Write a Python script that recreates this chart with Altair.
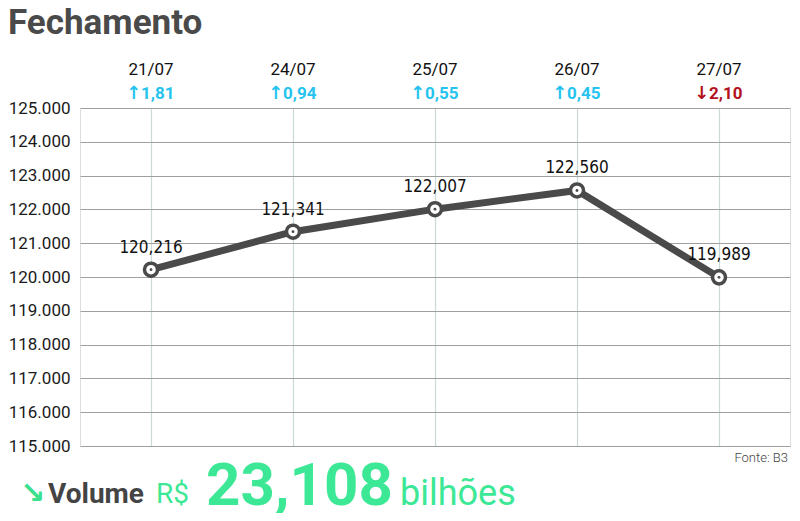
import altair as alt
import pandas as pd

dates = ["21/07", "24/07", "25/07", "26/07", "27/07"]
closes = [120216, 121341, 122007, 122560, 119989]
close_labels = ["120,216", "121,341", "122,007", "122,560", "119,989"]
changes = ["1,81", "0,94", "0,55", "0,45", "2,10"]
directions = ["up", "up", "up", "up", "down"]
y_ticks = [115000, 116000, 117000, 118000, 119000, 120000, 121000, 122000, 123000, 124000, 125000]

arrow = {"up": "↑", "down": "↓"}
df = pd.DataFrame({
    "date": dates,
    "close": closes,
    "label": close_labels,
    "change": changes,
    "arrow": [arrow[d] for d in directions],
    "dir": directions,
})

W, H = 710, 338
x = alt.X("date:N", sort=dates,
          scale=alt.Scale(type="point", padding=0.5),
          axis=alt.Axis(title=None, labels=False, ticks=False, domain=False,
                        grid=True, gridColor="#c9d9d9", gridWidth=1.2))
y = alt.Y("close:Q", scale=alt.Scale(domain=[115000, 125000], nice=False, zero=False),
          axis=alt.Axis(title=None, values=y_ticks, ticks=False, domain=False,
                        grid=True, gridColor="#a0a0a0", gridWidth=1,
                        labelOverlap=False,
                        labelExpr="replace(format(datum.value, ',d'), ',', '.')",
                        labelFont="Roboto", labelFontSize=17, labelColor="#1a1a1a",
                        labelPadding=10))

color = alt.Color("dir:N", scale=alt.Scale(domain=["up", "down"], range=["#27c3ef", "#b3121c"]),
                  legend=None)

base = alt.Chart(df)
line = base.mark_line(color="#4a4a4a", strokeWidth=7).encode(x=x, y=y)
circles = base.mark_point(shape="circle", size=170, filled=True, fill="white",
                          stroke="#4a4a4a", strokeWidth=3.5, opacity=1).encode(x=x, y=y)
dots = base.mark_point(shape="circle", size=8, filled=True, color="#4a4a4a",
                       opacity=1).encode(x=x, y=y)
vals = base.mark_text(font="DejaVu Sans Condensed", fontSize=17,
                      color="#111111", dy=-22, baseline="middle").encode(
    x=x, y=y, text="label:N")
date_txt = base.mark_text(font="Roboto", fontSize=17, color="#111111",
                          baseline="middle").encode(x=x, y=alt.value(-38), text="date:N")
chg_txt = base.mark_text(font="Roboto", fontSize=17, fontWeight="bold", align="left",
                         dx=-10, baseline="middle").encode(
    x=x, y=alt.value(-14), text="change:N", color=color)
arr_txt = base.mark_text(font="DejaVu Sans", fontSize=18, fontWeight="bold", align="right",
                         dx=-10, baseline="middle").encode(
    x=x, y=alt.value(-14), text="arrow:N", color=color)

one = pd.DataFrame({"k": [0]})
def txt(text, px, py, **kw):
    return alt.Chart(one).mark_text(text=text, **kw).encode(x=alt.value(px), y=alt.value(py))

title = txt("Fechamento", -72, -74, font="Roboto", fontSize=35, fontWeight="bold",
            color="#4a4a4a", align="left", baseline="alphabetic")
fonte = txt("Fonte: B3", 708, 350, font="Roboto", fontSize=13, fontWeight=300,
            color="#444444", align="right", baseline="middle")
varrow = txt("↘", -60, 395, font="DejaVu Sans", fontSize=30, fontWeight="bold",
             color="#3be08f", align="left", baseline="alphabetic")
vol = txt("Volume", -32, 395, font="Roboto", fontSize=28, fontWeight="bold",
          color="#444444", align="left", baseline="alphabetic")
rs = txt("R$", 76, 395, font="Roboto", fontSize=28, color="#3ce896",
         align="left", baseline="alphabetic")
big = txt("23,108", 126, 397, font="Roboto", fontSize=60, fontWeight="bold",
          color="#3ce896", align="left", baseline="alphabetic")
bil = txt("bilhões", 320, 397, font="Roboto", fontSize=36, color="#3ce896",
          align="left", baseline="alphabetic")

chart = alt.layer(line, circles, dots, vals, date_txt, chg_txt, arr_txt,
                  title, fonte, varrow, vol, rs, big, bil).properties(
    width=W, height=H,
    autosize=alt.AutoSizeParams(type="none"),
    padding={"left": 72, "top": 100, "right": 2, "bottom": 67},
).configure_view(stroke=None).configure(background="white")

chart.save("out.html", embed_options={"renderer": "svg", "actions": False})
